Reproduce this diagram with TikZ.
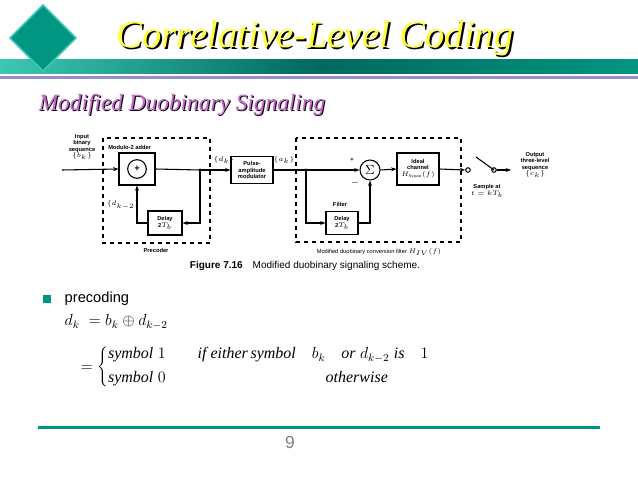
\documentclass[tikz,border=0pt]{standalone}
\usepackage{fontspec}
\setmainfont{Liberation Serif}
\newfontfamily\sansf{Liberation Sans}
\usetikzlibrary{arrows.meta,shapes.geometric,shadows}
\definecolor{teal1}{RGB}{0,150,130}
\definecolor{teal2}{RGB}{60,200,180}
\definecolor{purp}{RGB}{150,140,210}
\definecolor{ttl}{RGB}{255,255,60}
\definecolor{sub}{RGB}{200,100,210}
\begin{document}
\begin{tikzpicture}[x=0.75pt,y=-0.75pt,
  blk/.style={draw,thick,fill=white,inner sep=0pt,font=\sansf\bfseries\fontsize{4.3}{4.8}\selectfont,align=center},
  lbl/.style={font=\sansf\bfseries\fontsize{4.3}{4.8}\selectfont,align=center,inner sep=0pt},
  sig/.style={thick},
  arr/.style={thick,-{Stealth[length=4pt,width=3pt]}},
  dbox/.style={dashed,thick},
  dot/.style={circle,fill,inner sep=0.9pt}]
\useasboundingbox (0,0) rectangle (638,478);
% header
\shade[left color=teal2,right color=teal1,middle color=teal1!70!black] (0,60) rectangle (638,74);
\fill[purp] (0,76) rectangle (638,79);
\node[diamond,minimum width=50pt,minimum height=50pt,fill=teal1,draw=teal2,line width=1.2pt,inner sep=0pt] (dia) at (43,38) {};
\node[font=\fontsize{29}{31}\selectfont\itshape,text=black] at (317,40) {Correlative-Level Coding};
\node[font=\fontsize{29}{31}\selectfont\itshape,text=ttl] (title) at (315,38) {Correlative-Level Coding};
\node[font=\fontsize{17.5}{19}\selectfont\itshape,text=black] at (183,106) {Modified Duobinary Signaling};
\node[font=\fontsize{17.5}{19}\selectfont\itshape,text=sub] (subt) at (182,105) {Modified Duobinary Signaling};
% diagram
\draw[dbox] (103,138) rectangle (210,243);
\draw[dbox] (296,138) rectangle (461,242);
\node[blk,minimum width=27pt,minimum height=24pt] (add) at (137,169) {};
\node[draw,thick,circle,minimum size=14pt,inner sep=0pt,font=\sansf\bfseries\fontsize{7}{7}\selectfont] (xor) at (137,169) {+};
\node[blk,minimum width=25.5pt,minimum height=18pt] (d1) at (165,223) {Delay\\2$T_b$};
\node[blk,minimum width=31.5pt,minimum height=20pt] (pam) at (252,170) {Pulse-\\amplitude\\modulator};
\node[draw,thick,circle,minimum size=15pt,inner sep=0pt,fill=white] (sum) at (370,170) {$\Sigma$};
\node[blk,minimum width=24pt,minimum height=17pt] (d2) at (342,223) {Delay\\2$T_b$};
\node[blk,minimum width=31.5pt,minimum height=24pt] (ch) at (418,169) {Ideal\\channel\\$H_{\mathrm{Nyquist}}(f)$};
\node[lbl] (in) at (82,147) {Input\\binary\\sequence\\$\{b_k\}$};
\coordinate (ins) at (62,170);
\node[lbl,anchor=west] (madd) at (108,147) {Modulo-2 adder};
\node[lbl] (prec) at (156,250) {Precoder};
\node[lbl] (dk2) at (123,205) {$\{d_{k-2}\}$};
\node[lbl] (dk) at (224,160) {$\{d_k\}$};
\node[lbl] (ak) at (284,160) {$\{a_k\}$};
\node[lbl] (filt) at (340,204) {Filter};
\node[lbl] (mdc) at (379,252) {\mdseries Modified duobinary conversion filter $H_{IV}(f)$};
\node[lbl] (plus) at (352,160) {+};
\node[lbl] (minus) at (355,183) {\fontsize{7}{7}\selectfont $-$};
\node[draw,thick,circle,inner sep=1.2pt,fill=white] (s1) at (468,170) {};
\node[draw,thick,circle,inner sep=1.2pt,fill=white] (s2) at (494,170) {};
\coordinate (sw) at (476,157);
\coordinate (out) at (511,170);
\node[lbl] (samp) at (487,191) {Sample at\\$t=kT_b$};
\node[lbl] (outt) at (535,165) {Output\\three-level\\sequence\\$\{c_k\}$};
\node[font=\sansf\bfseries\fontsize{7.5}{8}\selectfont] (cap) at (305,266) {Figure 7.16\quad{\mdseries Modified duobinary signaling scheme.}};
\coordinate (j1) at (200,170);
\coordinate (j2) at (306,170);
\draw[arr] (ins) -- (add.west);
\draw[sig] (add.east) -- (j1);
\draw[arr] (j1) -- (pam.west);
\draw[arr] (j1) |- (d1.east);
\draw[arr] (d1.west) -| (add.south);
\node[dot] at (j1) {};
\draw[sig] (pam.east) -- (j2);
\draw[arr] (j2) -- (sum.west);
\draw[arr] (j2) |- (d2.west);
\draw[arr] (d2.east) -| (sum.south);
\node[dot] at (j2) {};
\draw[arr] (sum.east) -- (ch.west);
\draw[arr] (ch.east) -- (s1.west);
\draw[thick] (s2.center) -- (sw);
\draw[arr] (s2.east) -- (out);
% text
\fill[teal1] (43,295) rectangle (51,303);
\node[font=\sansf\fontsize{11}{13}\selectfont,anchor=west] (prc) at (60,299) {precoding};
\node[anchor=west,font=\fontsize{12}{14}\selectfont] (eq1) at (60,322) {$d_k\;=b_k\oplus d_{k-2}$};
\node[anchor=west,font=\fontsize{12}{14}\selectfont] (eq2) at (76,367) {$=\left\{\begin{array}{@{}l@{}}
\mathit{symbol}\;1\qquad \mathit{if\ either\,symbol}\quad b_k\quad \mathit{or}\;d_{k-2}\;\mathit{is}\quad 1\\[4pt]
\mathit{symbol}\;0\qquad\qquad\qquad\qquad\qquad \mathit{otherwise}
\end{array}\right.$};
\fill[teal1] (38,426) rectangle (600,429);
\node[font=\sansf\fontsize{13}{14}\selectfont,text=gray] (pg) at (290,443) {9};
\end{tikzpicture}
\end{document}
